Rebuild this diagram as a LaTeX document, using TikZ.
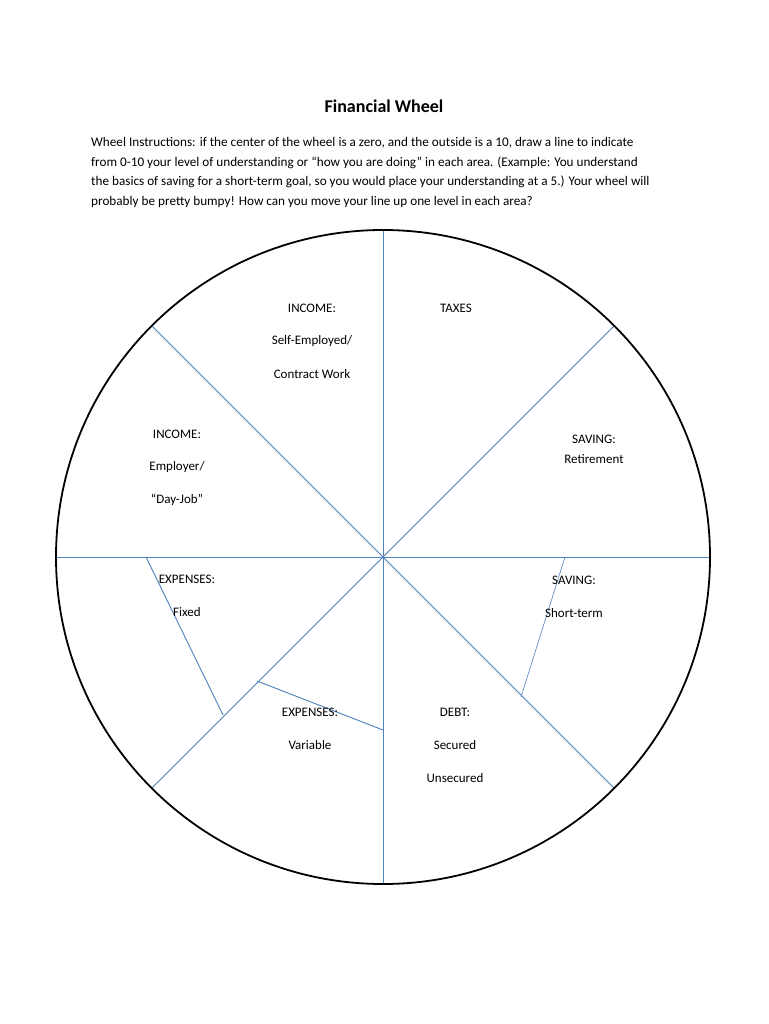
\documentclass[tikz,border=0pt]{standalone}
\usepackage{fontspec}
\setmainfont{Carlito}
\definecolor{wblue}{RGB}{79,129,189}
\begin{document}
\begin{tikzpicture}[x=1pt,y=-1pt,
  lbl/.style={font=\fontsize{13}{15}\selectfont,inner sep=0pt},
  ins/.style={font=\fontsize{13.2}{15}\selectfont,inner sep=0pt,anchor=west},
  spoke/.style={draw=wblue,line width=0.9pt}]
\useasboundingbox[fill=white] (0,0) rectangle (768,1024);
\node[font=\bfseries\fontsize{18}{20}\selectfont] (title) at (384,106) {Financial Wheel};
\node[ins] (i1) at (91,143) {Wheel Instructions: if the center of the wheel is a zero, and the outside is a 10, draw a line to indicate};
\node[ins] (i2) at (91,163) {from 0-10 your level of understanding or “how you are doing” in each area. (Example: You understand};
\node[ins] (i3) at (91,182) {the basics of saving for a short-term goal, so you would place your understanding at a 5.) Your wheel will};
\node[ins] (i4) at (91,202) {probably be pretty bumpy! How can you move your line up one level in each area?};
\coordinate (c) at (383,557);
\foreach \a in {0,45,...,315} \draw[spoke] (c) -- ++(\a:327);
\draw[line width=1.8pt] (c) circle (327);
\coordinate (f1) at (146,557); \coordinate (f2) at (223,715);
\draw[spoke] (f1) -- (f2);
\coordinate (v1) at (257,681); \coordinate (v2) at (383,730);
\draw[spoke] (v1) -- (v2);
\coordinate (s1) at (565,557); \coordinate (s2) at (521,697);
\draw[spoke,line width=0.6pt] (s1) -- (s2);
\node[lbl] (a1) at (312,308) {INCOME:};
\node[lbl] (a2) at (312,341) {Self-Employed/};
\node[lbl] (a3) at (312,374) {Contract Work};
\node[lbl] (b1) at (456,308) {TAXES};
\node[lbl] (d1) at (177,434) {INCOME:};
\node[lbl] (d2) at (177,467) {Employer/};
\node[lbl] (d3) at (177,500) {“Day-Job”};
\node[lbl] (e1) at (594,439) {SAVING:};
\node[lbl] (e2) at (594,459) {Retirement};
\node[lbl] (g1) at (187,579) {EXPENSES:};
\node[lbl] (g2) at (187,612) {Fixed};
\node[lbl] (h1) at (574,580) {SAVING:};
\node[lbl] (h2) at (574,613) {Short-term};
\node[lbl] (k1) at (310,712) {EXPENSES:};
\node[lbl] (k2) at (310,745) {Variable};
\node[lbl] (m1) at (455,712) {DEBT:};
\node[lbl] (m2) at (455,745) {Secured};
\node[lbl] (m3) at (455,778) {Unsecured};
\end{tikzpicture}
\end{document}
